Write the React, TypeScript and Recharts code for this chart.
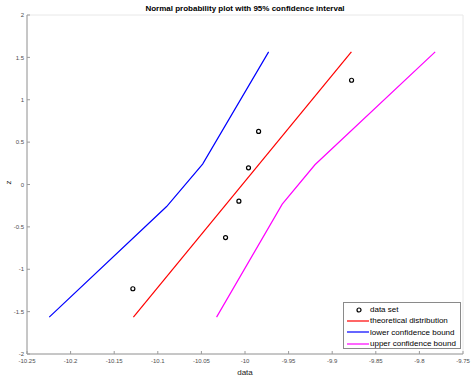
import React from 'react';
import { ComposedChart, Scatter, XAxis, YAxis, CartesianGrid } from 'recharts';

// data set (x = data value, z = normal quantile)
const sampleX = [-10.1286, -10.0223, -10.007, -9.996, -9.9844, -9.8778];
const sampleZ = [-1.23, -0.626, -0.197, 0.197, 0.626, 1.23];

const theoX = [-10.128, -9.878];
const theoZ = [-1.565, 1.565];

const lowerX = [-10.2245, -10.0899, -10.0486, -9.9729];
const lowerZ = [-1.565, -0.26, 0.241, 1.565];

const upperX = [-10.0326, -9.9573, -9.9198, -9.7819];
const upperZ = [-1.565, -0.231, 0.233, 1.565];

const xTicks = [-10.25, -10.2, -10.15, -10.1, -10.05, -10, -9.95, -9.9, -9.85, -9.8, -9.75];
const yTicks = [-2, -1.5, -1, -0.5, 0, 0.5, 1, 1.5, 2];

const zip = (xs: number[], zs: number[]) => xs.map((x, i) => ({ x, z: zs[i] }));

const FONT = '"Liberation Sans", Arial, Helvetica, sans-serif';
const AX = '#9a9a9a';
const TICK = '#4d4d4d';

const legendItems = [
  { label: 'data set', type: 'marker', color: '#000' },
  { label: 'theoretical distribution', type: 'line', color: '#ff0000' },
  { label: 'lower confidence bound', type: 'line', color: '#0000ff' },
  { label: 'upper confidence bound', type: 'line', color: '#ff00ff' },
];

const LegendBox = () => (
  <div
    style={{
      position: 'absolute',
      left: 343,
      top: 302,
      width: 118,
      height: 47,
      background: '#fff',
      border: '1px solid #8a8a8a',
      boxSizing: 'border-box',
      fontFamily: FONT,
      fontSize: 8,
      color: '#000',
      padding: '1px 0 0 0',
    }}
  >
    {legendItems.map((it) => (
      <div key={it.label} style={{ height: 11.3, display: 'flex', alignItems: 'center', whiteSpace: 'nowrap' }}>
        <svg width={23} height={10} style={{ flex: 'none', marginLeft: 3 }}>
          {it.type === 'marker' ? (
            <circle cx={12} cy={5} r={2} fill="none" stroke={it.color} strokeWidth={1.2} />
          ) : (
            <line x1={0} y1={5} x2={22} y2={5} stroke={it.color} strokeWidth={1.2} />
          )}
        </svg>
        <span>{it.label}</span>
      </div>
    ))}
  </div>
);

const Circle = (props: any) => {
  const { cx, cy } = props;
  if (cx == null || cy == null) return <g />;
  return <circle cx={cx} cy={cy} r={2} fill="none" stroke="#000" strokeWidth={1.2} />;
};

const NoShape = () => <g />;

export default function App() {
  return (
    <div style={{ position: 'absolute', left: 0, top: 0, width: 474, height: 380, background: '#fff', fontFamily: FONT }}>
      <ComposedChart width={474} height={380} margin={{ top: 15, right: 11, left: 0, bottom: 0 }}>
        <CartesianGrid stroke="#e8e8e8" strokeWidth={1} />
        <XAxis
          type="number"
          dataKey="x"
          xAxisId="b"
          domain={[-10.25, -9.75]}
          ticks={xTicks}
          allowDataOverflow
          height={26}
          stroke={AX}
          tickSize={-3}
          tickMargin={8}
          tick={{ fontSize: 6, fill: TICK, fontFamily: FONT }}
          label={{ value: 'data', position: 'insideBottom', offset: 5, style: { fontSize: 8, fill: '#222', fontFamily: FONT } }}
        />
        <XAxis
          type="number"
          dataKey="x"
          xAxisId="t"
          orientation="top"
          domain={[-10.25, -9.75]}
          ticks={xTicks}
          allowDataOverflow
          height={0}
          stroke={AX}
          tickSize={-3}
          tick={false}
        />
        <YAxis
          type="number"
          dataKey="z"
          yAxisId="l"
          domain={[-2, 2]}
          ticks={yTicks}
          allowDataOverflow
          width={27}
          stroke={AX}
          tickSize={-3}
          tickMargin={6}
          tick={{ fontSize: 6, fill: TICK, fontFamily: FONT }}
          label={{ value: 'z', angle: -90, position: 'insideLeft', offset: 8, style: { fontSize: 8, fill: '#222', fontFamily: FONT } }}
        />
        <YAxis
          type="number"
          dataKey="z"
          yAxisId="r"
          orientation="right"
          domain={[-2, 2]}
          ticks={yTicks}
          allowDataOverflow
          width={0}
          stroke={AX}
          tickSize={-3}
          tick={false}
        />
        <Scatter
          xAxisId="b"
          yAxisId="l"
          data={zip(theoX, theoZ)}
          line={{ stroke: '#ff0000', strokeWidth: 1.2 }}
          shape={NoShape}
          isAnimationActive={false}
        />
        <Scatter
          xAxisId="b"
          yAxisId="l"
          data={zip(lowerX, lowerZ)}
          line={{ stroke: '#0000ff', strokeWidth: 1.2 }}
          shape={NoShape}
          isAnimationActive={false}
        />
        <Scatter
          xAxisId="b"
          yAxisId="l"
          data={zip(upperX, upperZ)}
          line={{ stroke: '#ff00ff', strokeWidth: 1.2 }}
          shape={NoShape}
          isAnimationActive={false}
        />
        <Scatter
          xAxisId="b"
          yAxisId="l"
          data={zip(sampleX, sampleZ)}
          shape={Circle}
          isAnimationActive={false}
        />
      </ComposedChart>
      <div
        style={{
          position: 'absolute',
          left: 27,
          width: 436,
          top: 4,
          textAlign: 'center',
          fontFamily: FONT,
          fontWeight: 'bold',
          fontSize: 8,
          color: '#000',
          lineHeight: '10px',
        }}
      >
        Normal probability plot with 95% confidence interval
      </div>
      <LegendBox />
    </div>
  );
}
